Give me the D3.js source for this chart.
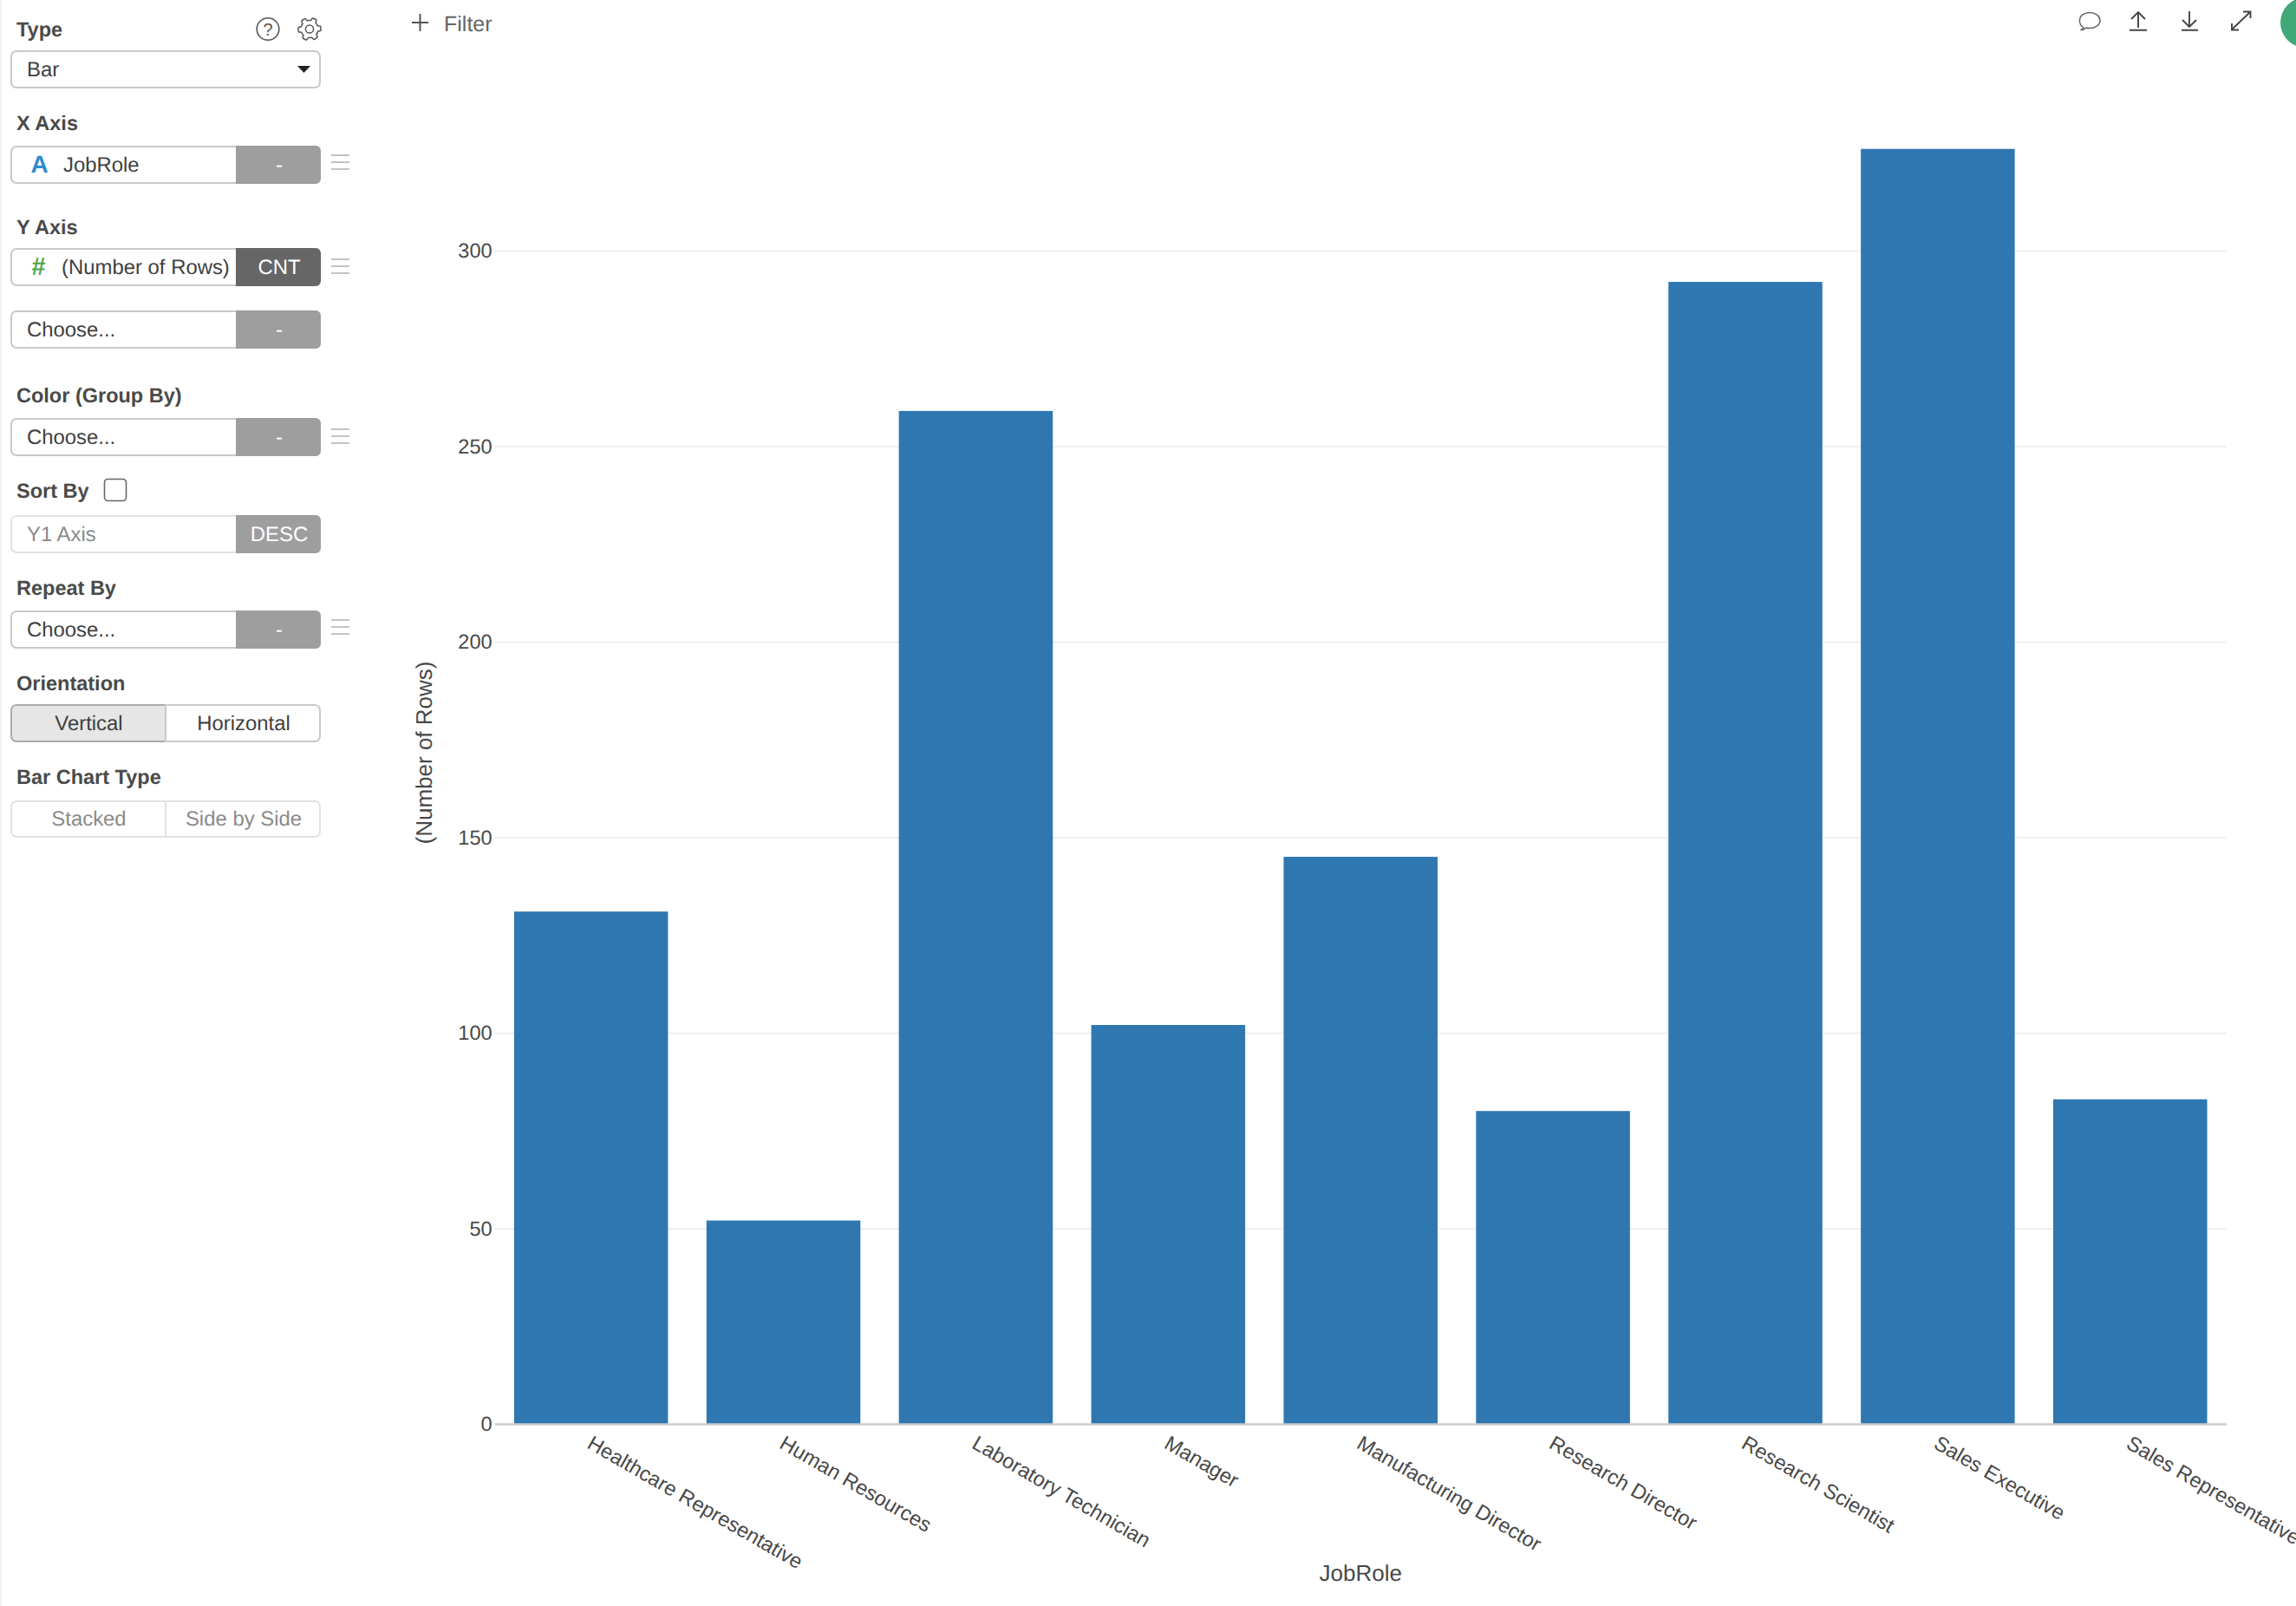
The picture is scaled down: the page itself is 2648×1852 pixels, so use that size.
<!DOCTYPE html>
<html><head><meta charset="utf-8">
<script src="https://cdn.jsdelivr.net/npm/d3@7"></script>
<style>
html,body{margin:0;padding:0;background:#fff;overflow:hidden}
svg{display:block}
text{font-family:"Liberation Sans",Arial,sans-serif;text-rendering:geometricPrecision}
</style></head><body>
<script>
const categories=["Healthcare Representative","Human Resources","Laboratory Technician","Manager","Manufacturing Director","Research Director","Research Scientist","Sales Executive","Sales Representative"];
const counts=[131,52,259,102,145,80,292,326,83];
const yTicks=[0,50,100,150,200,250,300];
const xTitle="JobRole";
const yTitle="(Number of Rows)";
const sectionLabels=["Type","X Axis","Y Axis","Color (Group By)","Sort By","Repeat By","Orientation","Bar Chart Type"];
const orientationOptions=["Vertical","Horizontal"];
const barTypeOptions=["Stacked","Side by Side"];

const W=2648,H=1852;
const svg=d3.select("body").append("svg").attr("width",W).attr("height",H).attr("viewBox",`0 0 ${W} ${H}`);
const FS=23.9, ink="#484848";

// ---------- chart
const plot={left:570.7,right:2567.7,top:289,bottom:1642};
const x=d3.scaleBand().domain(categories).range([plot.left,plot.right]).paddingInner(0.2).paddingOuter(0.1);
const y=d3.scaleLinear().domain([0,300]).range([plot.bottom,plot.top]);

const gy=svg.append("g").attr("transform",`translate(${plot.left},0)`)
  .call(d3.axisLeft(y).tickValues(yTicks).tickSize(-(plot.right-plot.left)).tickPadding(3).tickFormat(d3.format("d")));
gy.select(".domain").remove();
gy.selectAll("line").attr("stroke","#eaeaea").attr("stroke-width",1.7);
gy.selectAll("text").attr("font-size",23.6).attr("fill",ink).attr("font-family",null);

svg.append("g").selectAll("rect").data(categories).join("rect")
  .attr("x",d=>x(d)).attr("width",x.bandwidth())
  .attr("y",(d,i)=>y(counts[i])).attr("height",(d,i)=>y(0)-y(counts[i]))
  .attr("fill","#2f77b1");

const gx=svg.append("g").attr("transform",`translate(0,${plot.bottom})`)
  .call(d3.axisBottom(x).tickSize(0).tickPadding(0));
gx.select(".domain").attr("stroke","#cccccc").attr("stroke-width",2.6);
gx.selectAll("text").attr("font-size",23.8).attr("fill",ink).attr("font-family",null)
  .attr("text-anchor","start").attr("dy",null).attr("y",0).attr("x",0)
  .attr("transform","translate(-6,27) rotate(30)");

svg.append("text").attr("x",(plot.left+plot.right)/2).attr("y",1823).attr("text-anchor","middle")
  .attr("font-size",26).attr("fill",ink).text(xTitle);
svg.append("text").attr("transform","translate(498,868) rotate(-90)").attr("text-anchor","middle")
  .attr("font-size",26).attr("fill",ink).text(yTitle);

// ---------- side panel
svg.append("rect").attr("x",0).attr("y",0).attr("width",2).attr("height",H).attr("fill","#f1f1f1");
const side=svg.append("g");
const secY=[42,150,270,464,574,686,796,904];
side.selectAll("text.sec").data(sectionLabels).join("text").attr("class","sec")
  .attr("x",19).attr("y",(d,i)=>secY[i]).attr("font-size",23.5).attr("font-weight",700).attr("fill","#4a4a4a").text(d=>d);

function field(y0,h,label,tag,opt={}){
  const L=13,R=369,SPLIT=272,r=6;
  const b=opt.border||"#c9c9c9";
  side.append("rect").attr("x",L).attr("y",y0).attr("width",R-L).attr("height",h).attr("rx",r)
    .attr("fill","#fff").attr("stroke",b).attr("stroke-width",2);
  if(tag!==null){
    side.append("path").attr("d",`M${SPLIT},${y0-1}H${R-r+1}a${r},${r} 0 0 1 ${r},${r}V${y0+h+1-r}a${r},${r} 0 0 1 ${-r},${r}H${SPLIT}Z`)
      .attr("fill",opt.tagFill||"#9e9e9e");
    side.append("text").attr("x",322).attr("y",y0+h/2+7.5).attr("text-anchor","middle")
      .attr("font-size",FS).attr("fill","#fff").text(tag);
  }
  side.append("text").attr("x",opt.tx||31).attr("y",y0+h/2+7.5).attr("font-size",FS)
    .attr("fill",opt.color||"#404040").text(label);
}
function burger(cy){
  side.append("g").selectAll("line").data([-8,0,8]).join("line")
    .attr("x1",382).attr("x2",403).attr("y1",d=>cy+d).attr("y2",d=>cy+d)
    .attr("stroke","#b5b5b5").attr("stroke-width",1.6);
}
field(59,42,"Bar",null);
side.append("path").attr("d","M343,76H358L350.5,84Z").attr("fill","#222");
field(169,42,"JobRole","-",{tx:73}); burger(187);
side.append("text").attr("x",45.5).attr("y",199).attr("text-anchor","middle").attr("font-size",28).attr("font-weight",700).attr("fill","#2d8ccd").text("A");
field(287,42,"(Number of Rows)","CNT",{tx:71,tagFill:"#666666"}); burger(307);
side.append("text").attr("x",44).attr("y",317).attr("text-anchor","middle").attr("font-size",29).attr("font-weight",700).attr("font-style","italic").attr("fill","#4ea64f").text("#");
field(359,42,"Choose...","-");
field(483,42,"Choose...","-"); burger(503);
side.append("rect").attr("x",120.5).attr("y",552.5).attr("width",25).attr("height",25).attr("rx",4).attr("fill","#fff").attr("stroke","#666").attr("stroke-width",1.6);
field(595,42,"Y1 Axis","DESC",{border:"#e2e2e2",color:"#8a8a8a"});
field(705,42,"Choose...","-"); burger(723);

function segmented(y0,h,labels,opt){
  const L=13,R=369,S=191,r=6;
  const b=opt.border;
  if(opt.active){
    side.append("path").attr("d",`M${S},${y0}H${L+r}a${r},${r} 0 0 0 ${-r},${r}V${y0+h-r}a${r},${r} 0 0 0 ${r},${r}H${S}Z`).attr("fill","#e6e6e6").attr("stroke","#ababab").attr("stroke-width",2);
    side.append("path").attr("d",`M${S},${y0}H${R-r}a${r},${r} 0 0 1 ${r},${r}V${y0+h-r}a${r},${r} 0 0 1 ${-r},${r}H${S}Z`).attr("fill","#fff").attr("stroke",b).attr("stroke-width",2);
  }else{
    side.append("rect").attr("x",L).attr("y",y0).attr("width",R-L).attr("height",h).attr("rx",r).attr("fill","#fff").attr("stroke",b).attr("stroke-width",2);
    side.append("line").attr("x1",S).attr("x2",S).attr("y1",y0).attr("y2",y0+h).attr("stroke",b).attr("stroke-width",2);
  }
  side.selectAll(null).data(labels).join("text")
    .attr("x",(d,i)=>i?281:102.5).attr("y",y0+h/2+7.5).attr("text-anchor","middle").attr("font-size",FS).attr("fill",opt.color).text(d=>d);
}
segmented(813,42,orientationOptions,{active:true,border:"#c9c9c9",color:"#404040"});
segmented(924,41,barTypeOptions,{active:false,border:"#e2e2e2",color:"#8a8a8a"});

// help + gear icons
side.append("circle").attr("cx",309).attr("cy",33.5).attr("r",12.8).attr("fill","none").attr("stroke","#555").attr("stroke-width",1.6);
side.append("text").attr("x",309).attr("y",41).attr("text-anchor","middle").attr("font-size",20).attr("fill","#555").text("?");
const gear=side.append("g").attr("transform","translate(357,33.5)");
const gearR=d3.range(0,48).map(i=>{const a=i/48*2*Math.PI;const t=((i+2)%8)<4;return [(t?13:10)*Math.cos(a),(t?13:10)*Math.sin(a)];});
gear.append("path").attr("d",d3.line().curve(d3.curveCatmullRomClosed)(gearR)).attr("fill","none").attr("stroke","#555").attr("stroke-width",1.5);
gear.append("circle").attr("r",4.6).attr("fill","none").attr("stroke","#555").attr("stroke-width",1.5);

// ---------- toolbar
const tb=svg.append("g").attr("fill","none").attr("stroke","#444").attr("stroke-width",1.9);
tb.append("path").attr("d","M475,26H494M484.5,16V36").attr("stroke","#555").attr("stroke-width",2);
svg.append("text").attr("x",512).attr("y",35.5).attr("font-size",25).attr("fill","#666").text("Filter");
tb.append("path").attr("stroke","#666").attr("stroke-width",1.5)
  .attr("d","M2403,32C2398,29 2398.5,24 2398.5,23.5C2398.5,18 2404,14.5 2410,14.5C2416.5,14.5 2422,18.5 2422,23.5C2422,29 2416.5,32.5 2410,32.5C2408.5,32.5 2407,32.3 2406,32C2404.5,33.6 2402.5,34.6 2399.5,34.6C2401.5,33.5 2402.5,33 2403,32Z");
tb.append("path").attr("d","M2466,32V14M2458,22L2466,14L2474,22M2456,34.7H2476");
tb.append("path").attr("d","M2525,13V31M2517,23L2525,31L2533,23M2516,34.7H2535");
tb.append("path").attr("d","M2574,34L2595,14M2574,27V34.5H2582M2587,13.5H2595.5V21");
svg.append("circle").attr("cx",2659).attr("cy",26).attr("r",29).attr("fill","#41a878");
</script>
</body></html>
